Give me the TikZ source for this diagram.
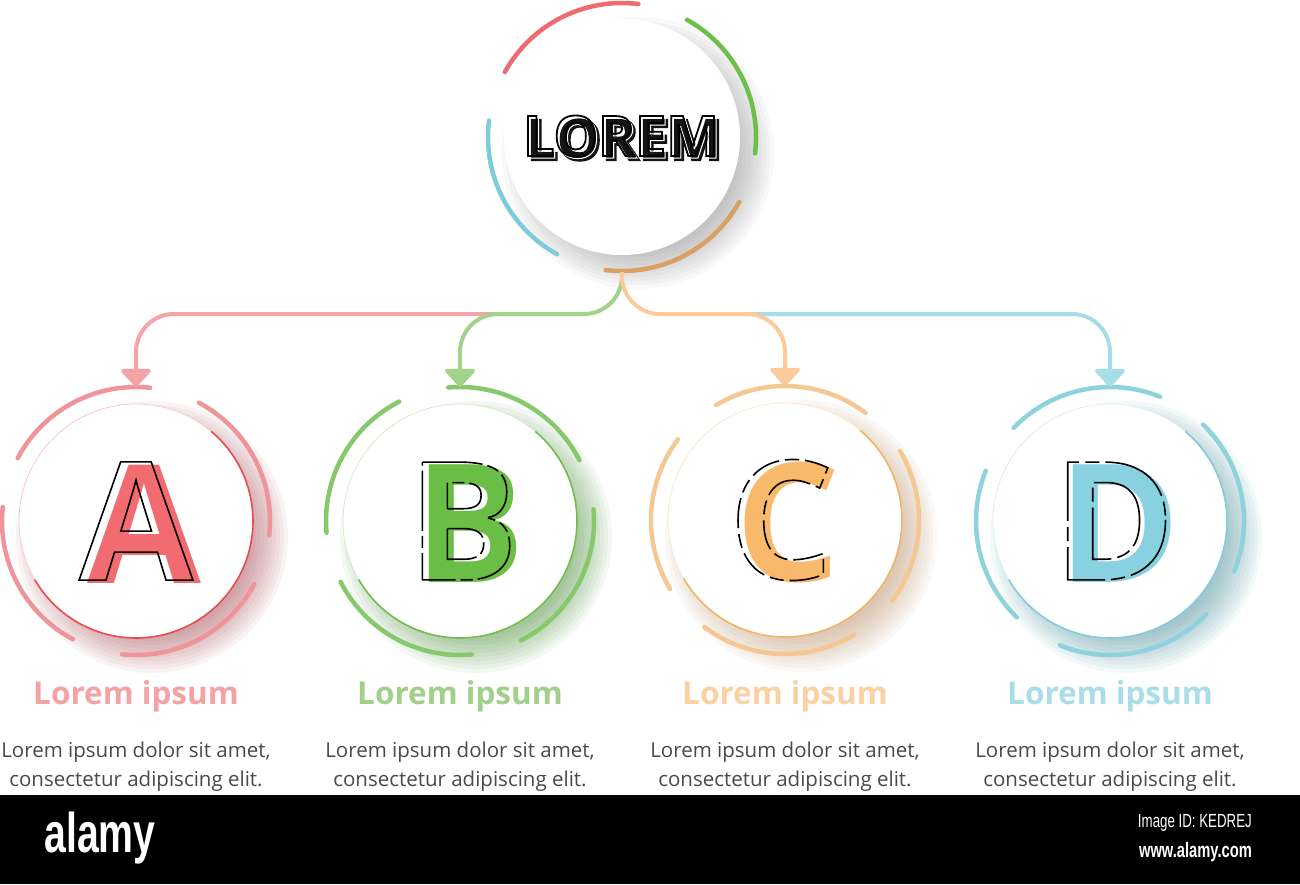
\documentclass[tikz,border=0pt]{standalone}
\usepackage{fontspec}
\setmainfont{Open Sans}
\newfontfamily\logofont[FakeStretch=0.7]{Liberation Sans}
\usetikzlibrary{arrows.meta,calc}
% ring colours
\definecolor{tGreen}{HTML}{6DBE4B}
\definecolor{tRed}{HTML}{EE6B70}
\definecolor{tCyan}{HTML}{7ECCDA}
\definecolor{tTan}{HTML}{D8A062}
\definecolor{aArc}{HTML}{EF9499}
\definecolor{bArc}{HTML}{86C96C}
\definecolor{cArc}{HTML}{F5C893}
\definecolor{dArc}{HTML}{8FD2DE}
% connectors
\definecolor{aCon}{HTML}{F4A4A8}
\definecolor{bCon}{HTML}{A3D38B}
\definecolor{cCon}{HTML}{FCCB99}
\definecolor{dCon}{HTML}{A6DDE7}
% borders
\definecolor{aBrd}{HTML}{E94A4F}
\definecolor{bBrd}{HTML}{72BD4C}
\definecolor{cBrd}{HTML}{F2B461}
\definecolor{dBrd}{HTML}{82CCDA}
% letters
\definecolor{aLet}{HTML}{F26B70}
\definecolor{bLet}{HTML}{6BBE45}
\definecolor{cLet}{HTML}{F8B96C}
\definecolor{dLet}{HTML}{88D1E0}
% headings
\definecolor{aHd}{HTML}{F3A2A6}
\definecolor{bHd}{HTML}{A2D08A}
\definecolor{cHd}{HTML}{FAD1A3}
\definecolor{dHd}{HTML}{A9DDE7}
% shadows
\definecolor{aSh}{HTML}{A04048}
\definecolor{bSh}{HTML}{3E8A30}
\definecolor{cSh}{HTML}{B08050}
\definecolor{dSh}{HTML}{3E8A98}
\definecolor{tSh}{HTML}{606060}
\definecolor{bodygray}{HTML}{4A4A4A}
\definecolor{loremblack}{HTML}{141414}

\newcommand\strokedtext[3]{\special{pdf:literal direct #1 w [#2] 0 d 1 Tr}#3\special{pdf:literal direct 0 Tr [] 0 d}}

\newcommand\ringarcs[6]{%
  \foreach \k/\cc in {0/#3,1/#4,2/#5,3/#6}{%
    \draw[arcline, color=\cc] ($(#1)+({#2+90*\k}:134)$) arc[start angle={#2+90*\k}, delta angle=68, radius=134];
  }}
% soft shadow: stacked translucent discs, offset to the lower right
\newcommand\softshadow[3]{% #1 centre, #2 colour, #3 opacity per layer
  \foreach \r in {100,104,...,136}{%
    \fill[color=#2, opacity=#3] ($(#1)+(16,-16)$) circle[radius=\r];
  }}

\tikzset{
  arcline/.style={line width=4.5pt, line cap=round},
  conn/.style={line width=4pt, rounded corners=38pt, -{Triangle[width=34pt,length=19pt,round]}},
  disc/.style={circle, minimum size=234pt, inner sep=0pt, fill=white},
  bigletter/.style={font=\bfseries\fontsize{165}{165}\selectfont, inner sep=0pt},
  toptitle/.style={font=\bfseries\fontsize{56}{56}\selectfont, inner sep=0pt},
  heading/.style={font=\bfseries\fontsize{31.5}{36}\selectfont, inner sep=0pt},
  body/.style={align=center, text=bodygray, font=\fontsize{20.5}{29}\selectfont, inner sep=0pt},
}

\begin{document}
\begin{tikzpicture}[x=1pt,y=1pt]
\useasboundingbox (0,0) rectangle (1300,-884);
\fill[white] (0,0) rectangle (1300,-884);

% ---------- centres ----------
\coordinate (cT) at (622,-137);
\coordinate (cA) at (136,-521);
\coordinate (cB) at (460,-521);
\coordinate (cC) at (785,-520);
\coordinate (cD) at (1110,-521);

% ---------- shadows ----------
\softshadow{cT}{tSh}{0.045}
\softshadow{cA}{aSh}{0.06}
\softshadow{cB}{bSh}{0.06}
\softshadow{cC}{cSh}{0.05}
\softshadow{cD}{dSh}{0.06}

% ---------- discs ----------
\node[disc, minimum size=236pt] (top) at (cT) {};
\node[disc] (A) at (cA) {};
\node[disc] (B) at (cB) {};
\node[disc] (C) at (cC) {};
\node[disc] (D) at (cD) {};

% disc borders
\foreach \n/\c in {A/aBrd,B/bBrd,C/cBrd,D/dBrd}{
  \draw[line width=0.8pt, color=\c!30] (\n) circle[radius=117];
  \draw[line width=1.6pt, color=\c] ($(\n)+(50:117)$) arc[start angle=50, end angle=-150, radius=117];
}

% ---------- ring arcs ----------
\ringarcs{top}{-7}{tGreen}{tRed}{tCyan}{tTan}
\ringarcs{A}{-6}{aArc}{aArc}{aArc}{aArc}
\ringarcs{B}{27}{bArc}{bArc}{bArc}{bArc}
\ringarcs{C}{53}{cArc}{cArc}{cArc}{cArc}
\ringarcs{D}{68}{dArc}{dArc}{dArc}{dArc}

% ---------- connectors ----------
\coordinate (j) at (622,-272);
\coordinate (jl) at (500,-314);
\coordinate (jr) at (745,-314);
\coordinate (lvl) at (622,-314);
\draw[conn, aCon] (jl) -- (A |- jl) -- ([yshift=17pt]A.north);
\draw[conn, dCon] (jr) -- (D |- jr) -- ([yshift=17pt]D.north);
\draw[conn, bCon] (j) -- (lvl) -- (B |- lvl) -- ([yshift=17pt]B.north);
\draw[conn, cCon] (j) -- (lvl) -- (C |- lvl) -- ([yshift=17pt]C.north);

% ---------- top title ----------
\node[toptitle, text=loremblack] (tf) at (625,-140) {\strokedtext{2.2}{}{LOREM}};
\node[toptitle, text=loremblack] (tf2) at (625,-140) {LOREM};
\node[toptitle, text=white] (tw) at (623,-138) {\strokedtext{1.0}{}{LOREM}};
\node[toptitle, text=black] (to) at (621,-136) {\strokedtext{1.8}{}{LOREM}};

% ---------- big letters ----------
\node[bigletter, text=aLet] (fA) at ($(A)+(8,-3)$) {A};
\node[bigletter, text=black] (oA) at ($(A)+(0,0)$) {\strokedtext{1.6}{}{A}};
\node[bigletter, text=bLet] (fB) at ($(B)+(10,-3)$) {B};
\node[bigletter, text=black] (oB) at ($(B)+(3,0)$) {\strokedtext{1.6}{60 5 12 5}{B}};
\node[bigletter, text=cLet] (fC) at ($(C)+(3,-3)$) {C};
\node[bigletter, text=black] (oC) at ($(C)+(-4,0)$) {\strokedtext{1.6}{30 6 14 6}{C}};
\node[bigletter, text=dLet] (fD) at ($(D)+(10,-3)$) {D};
\node[bigletter, text=black] (oD) at ($(D)+(4,0)$) {\strokedtext{1.6}{70 6 14 6}{D}};

% ---------- headings ----------
\node[heading, text=aHd] (hA) at (136,-696) {Lorem ipsum};
\node[heading, text=bHd] (hB) at (460,-696) {Lorem ipsum};
\node[heading, text=cHd] (hC) at (785,-696) {Lorem ipsum};
\node[heading, text=dHd] (hD) at (1110,-696) {Lorem ipsum};

% ---------- body ----------
\node[body] (tA) at (136,-767) {Lorem ipsum dolor sit amet,\\consectetur adipiscing elit.};
\node[body] (tB) at (460,-767) {Lorem ipsum dolor sit amet,\\consectetur adipiscing elit.};
\node[body] (tC) at (785,-767) {Lorem ipsum dolor sit amet,\\consectetur adipiscing elit.};
\node[body] (tD) at (1110,-767) {Lorem ipsum dolor sit amet,\\consectetur adipiscing elit.};

% ---------- bottom bar ----------
\fill[black] (0,-795) rectangle (1300,-884);
\node[text=white, font=\logofont\bfseries\fontsize{56}{56}\selectfont, inner sep=0pt] (logo) at (100,-838) {alamy};
\node[anchor=east, text=white, font=\logofont\fontsize{19}{22}\selectfont, inner sep=0pt] (imgid) at (1252,-823) {Image ID: KEDREJ};
\node[anchor=east, text=white, font=\logofont\bfseries\fontsize{21}{24}\selectfont, inner sep=0pt] (url) at (1252,-852) {www.alamy.com};
\end{tikzpicture}
\end{document}
